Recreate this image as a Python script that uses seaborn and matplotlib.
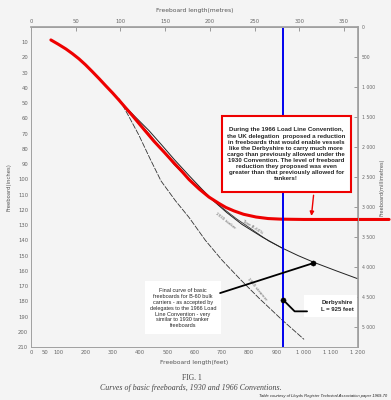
import matplotlib
matplotlib.use("Agg")
import matplotlib.pyplot as plt
import seaborn as sns
import pandas as pd
from matplotlib.patches import Rectangle

# values: freeboard length (feet) vs freeboard (inches)
uk_ft = [73, 100, 128, 152, 176, 200, 224, 250, 275, 300, 323, 347, 371, 393, 415, 451, 490, 525,
         555, 580, 617, 653, 690, 715, 745, 780, 826, 870, 917, 1000, 1100, 1200, 1314]
uk_in = [8.5, 11.3, 14.4, 17.5, 20.9, 24.8, 29.1, 33.9, 38.7, 43.4, 48.0, 53.0, 57.9, 62.6, 67.3, 74.9, 82.4, 89.3,
         95.0, 100.1, 106.3, 111.6, 115.8, 118.4, 120.7, 122.9, 124.7, 125.7, 126.1, 126.3, 126.3, 126.3, 126.3]

b60_ft = [323, 380, 433, 480, 525, 580, 625, 672, 720, 774, 850, 921, 980, 1039, 1120, 1196]
b60_in = [48, 58.5, 68, 77.5, 86.8, 97.5, 106, 114.5, 122, 129.5, 138, 145, 150, 154.5, 160, 165]

tanker_ft = [323, 380, 433, 480, 525, 570, 617, 660, 708, 755, 800, 840, 873, 921]
tanker_in = [48, 59.5, 70, 80.5, 90.3, 98.5, 105.5, 112.5, 119.5, 126, 131.5, 136.5, 140.5, 145]

steamer_ft = [323, 360, 396, 437, 477, 530, 580, 640, 701, 770, 837, 920, 1002]
steamer_in = [47, 59, 71, 86.5, 101, 114, 125, 140, 153, 166, 178, 192, 205]

derbyshire_ft = [925]
mark_ft = [925, 1035]
mark_in = [179, 155]

ft_ticks = [0, 50, 100, 200, 300, 400, 500, 600, 700, 800, 900, 1000, 1100, 1200]
in_ticks = list(range(10, 220, 10))
m_ticks = [0, 50, 100, 150, 200, 250, 300, 350]
mm_ticks = list(range(0, 5500, 500))

bg = "#f4f4f4"
grey = "#8a8a8a"

sns.set_theme(style="white")
plt.rcParams["font.family"] = ["DejaVu Sans"]

fig = plt.figure(figsize=(3.91, 4.0), dpi=100, facecolor=bg)
ax = fig.add_axes([31 / 391, 53 / 400, 327 / 391, 320 / 400])
ax.set_facecolor(bg)

curves = pd.DataFrame({"ft": steamer_ft, "inch": steamer_in})
sns.lineplot(data=curves, x="ft", y="inch", ax=ax, color="#333333", lw=0.6,
             linestyle=(0, (7, 1.5)))
sns.lineplot(x=tanker_ft, y=tanker_in, ax=ax, color="#333333", lw=0.6)
sns.lineplot(x=b60_ft, y=b60_in, ax=ax, color="#222222", lw=0.7)
sns.lineplot(x=uk_ft, y=uk_in, ax=ax, color="#ee0000", lw=2.2)
ax.lines[-1].set_clip_on(False)
ax.axvline(derbyshire_ft[0], color="#0000ee", lw=1.4)
sns.scatterplot(x=mark_ft, y=mark_in, ax=ax, color="black", s=14, zorder=6, edgecolor="black")

ax.set_xlim(0, 1200)
ax.set_ylim(210, 0)
ax.set_xticks(ft_ticks)
ax.set_xticklabels([f"{t:,}".replace(",", " ") for t in ft_ticks])
ax.set_yticks(in_ticks)
ax.set_xlabel("Freeboard length(feet)", fontsize=4.3, color="#555555", labelpad=4)
ax.set_ylabel("Freeboard(inches)", fontsize=3.8, color="#555555", labelpad=5)
ax.tick_params(direction="in", length=3, width=0.6, color=grey, labelsize=3.8, labelcolor="#666666", pad=2)
for s in ax.spines.values():
    s.set_color("#a0a0a0")
    s.set_linewidth(0.7)

top = ax.secondary_xaxis("top", functions=(lambda x: x * 0.3048, lambda m: m / 0.3048))
top.set_xticks(m_ticks)
top.set_xlabel("Freeboard length(metres)", fontsize=4.3, color="#555555", labelpad=5)
top.tick_params(direction="in", length=3, width=0.6, color=grey, labelsize=3.8, labelcolor="#666666", pad=2)
top.spines["top"].set_color("#a0a0a0")

right = ax.secondary_yaxis("right", functions=(lambda i: i * 25.4, lambda mm: mm / 25.4))
right.set_yticks(mm_ticks)
right.set_yticklabels([f"{t:,}".replace(",", " ") for t in mm_ticks])
right.set_ylabel("Freeboard(millimetres)", fontsize=3.6, color="#555555", labelpad=3)
right.tick_params(direction="in", length=3, width=0.6, color=grey, labelsize=3.3, labelcolor="#666666", pad=3)
right.spines["right"].set_color("#a0a0a0")

# curve names written along the lines
ax.text(812, 131, "Type B-60%", fontsize=3, color="#666666", rotation=-33, ha="center", va="center")
ax.text(712, 127, "1930 tanker", fontsize=3, color="#666666", rotation=-38, ha="center", va="center")
ax.text(829, 172, "1930 steamer", fontsize=3, color="#666666", rotation=-50, ha="center", va="center")

# red-bordered note
ax.add_patch(Rectangle((701, 58.2), 473, 50.4, facecolor="white", edgecolor="#ee0000", lw=1.5, zorder=7))
note = ("During the 1966 Load Line Convention,\n"
        "the UK delegation  proposed a reduction\n"
        "in freeboards that would enable vessels\n"
        "like the Derbyshire to carry much more\n"
        "cargo than previously allowed under the\n"
        "1930 Convention. The level of freeboard\n"
        "reduction they proposed was even\n"
        "greater than that previously allowed for\n"
        "tankers!")
ax.text(937, 83.6, note, family="Liberation Sans", fontweight="bold", fontsize=4.4,
        ha="center", va="center", linespacing=1.28, zorder=8)
ax.annotate("", xy=(1028, 125.8), xytext=(1038, 108.6),
            arrowprops=dict(arrowstyle="-|>", color="#ee0000", lw=1.0, mutation_scale=6), zorder=8)

# final curve note
ax.add_patch(Rectangle((418, 167), 279, 34.6, facecolor="white", edgecolor="none", zorder=3))
final = ("Final curve of basic\n"
         "freeboards for B-60 bulk\n"
         "carriers - as accepted by\n"
         "delegates to the 1966 Load\n"
         "Line Convention - very\n"
         "similar to 1930 tanker\n"
         "freeboards")
ax.text(557, 184.5, final, family="Liberation Sans", fontsize=4.0, ha="center", va="center",
        linespacing=1.22, zorder=4)
ax.annotate("", xy=(mark_ft[1], mark_in[1]), xytext=(694, 174.6),
            arrowprops=dict(arrowstyle="-", color="black", lw=1.3, shrinkA=0, shrinkB=0), zorder=5)

# Derbyshire note
ax.add_patch(Rectangle((1002, 176), 195, 14.5, facecolor="white", edgecolor="none", zorder=3))
ax.text(1123, 180.6, "Derbyshire", family="Liberation Sans", fontweight="bold", fontsize=4.3,
        ha="center", va="center", zorder=4)
ax.text(1123, 185.4, "L = 925 feet", family="Liberation Sans", fontweight="bold", fontsize=4.3,
        ha="center", va="center", zorder=4)
ax.annotate("", xy=(mark_ft[0], mark_in[0]), xytext=(1013, 186.6),
            arrowprops=dict(arrowstyle="-", color="black", lw=1.3, shrinkA=0, shrinkB=0,
                            connectionstyle="angle,angleA=0,angleB=-45,rad=0"), zorder=5)

fig.text(192 / 391, 1 - 378 / 400, "FIG. 1", family="Liberation Serif", fontsize=5.5,
         color="#444444", ha="center", va="center")
fig.text(191 / 391, 1 - 388 / 400, "Curves of basic freeboards, 1930 and 1966 Conventions.",
         family="Liberation Serif", style="italic", fontsize=5.7, color="#444444", ha="center", va="center")
fig.text(387 / 391, 1 - 396.5 / 400,
         "Table courtesy of Lloyds Register Technical Association paper 1969-70",
         family="Liberation Sans", style="italic", fontsize=3, color="#222222", ha="right", va="center")

fig.savefig("out.png", dpi=100, facecolor=bg)
